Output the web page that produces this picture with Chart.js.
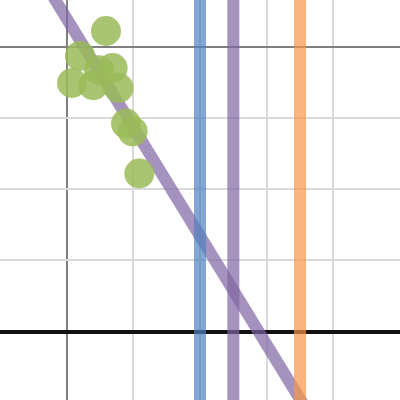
<!DOCTYPE html>
<html>
<head>
<meta charset="utf-8">
<script src="https://cdn.jsdelivr.net/npm/chart.js@4"></script>
<style>
  html, body { margin: 0; padding: 0; background: #fff; }
  #box { width: 400px; height: 400px; }
</style>
</head>
<body>
<div id="box"><canvas id="myChart" width="400" height="400"></canvas></div>
<script>
// observed points
var pointX = [1.59, 1.20, 1.08, 1.40, 1.485, 1.69, 1.78, 1.89, 1.99, 2.09];
var pointY = [4.22, 3.87, 3.49, 3.46, 3.67, 3.70, 3.42, 2.92, 2.81, 2.22];

// fitted line end points
var fitX = [0.6, 4.7];
var fitY = [5.005, -1.251];

// vertical marker lines
var blueX = 3;
var purpleX = 3.5;
var orangeX = 4.5;
var spanY = [-2, 6];

// grid ticks
var xTicks = [1, 2, 3, 4, 5];
var yTicks = [0, 1, 2, 3, 4];

function vline(x) {
  return spanY.map(function (y) { return { x: x, y: y }; });
}

var ctx = document.getElementById('myChart').getContext('2d');

new Chart(ctx, {
  type: 'scatter',
  data: {
    datasets: [{
      label: 'points',
      data: pointX.map(function (x, i) { return { x: x, y: pointY[i] }; }),
      backgroundColor: 'rgba(155, 187, 89, 0.85)',
      borderWidth: 0,
      pointRadius: 15,
      order: 0
    }, {
      label: 'orange',
      type: 'line',
      data: vline(orangeX),
      borderColor: 'rgba(247, 150, 70, 0.7)',
      borderWidth: 12,
      pointRadius: 0,
      order: 1
    }, {
      label: 'purple',
      type: 'line',
      data: vline(purpleX),
      borderColor: 'rgba(128, 100, 162, 0.7)',
      borderWidth: 12,
      pointRadius: 0,
      order: 2
    }, {
      label: 'blue',
      type: 'line',
      data: vline(blueX),
      borderColor: 'rgba(79, 129, 189, 0.7)',
      borderWidth: 12,
      pointRadius: 0,
      order: 3
    }, {
      label: 'fit',
      type: 'line',
      data: fitX.map(function (x, i) { return { x: x, y: fitY[i] }; }),
      borderColor: 'rgba(128, 100, 162, 0.7)',
      borderWidth: 12,
      pointRadius: 0,
      order: 4
    }]
  },
  options: {
    responsive: false,
    animation: false,
    layout: { padding: 0, autoPadding: false },
    plugins: {
      legend: { display: false },
      tooltip: { enabled: false }
    },
    scales: {
      x: {
        type: 'linear',
        min: 0,
        max: 6,
        afterBuildTicks: function (scale) {
          scale.ticks = xTicks.map(function (v) { return { value: v }; });
        },
        ticks: { display: false },
        border: { display: false },
        grid: {
          drawTicks: false,
          lineWidth: 2,
          color: function (c) {
            return c.tick && c.tick.value === 1 ? '#7f7f7f' : '#d9d9d9';
          }
        }
      },
      y: {
        type: 'linear',
        min: -0.959,
        max: 4.655,
        afterBuildTicks: function (scale) {
          scale.ticks = yTicks.map(function (v) { return { value: v }; });
        },
        ticks: { display: false },
        border: { display: false },
        grid: {
          drawTicks: false,
          lineWidth: function (c) {
            return c.tick && c.tick.value === 0 ? 4 : 2;
          },
          color: function (c) {
            if (c.tick && c.tick.value === 0) return '#111111';
            if (c.tick && c.tick.value === 4) return '#7f7f7f';
            return '#d9d9d9';
          }
        }
      }
    }
  }
});
</script>
</body>
</html>
